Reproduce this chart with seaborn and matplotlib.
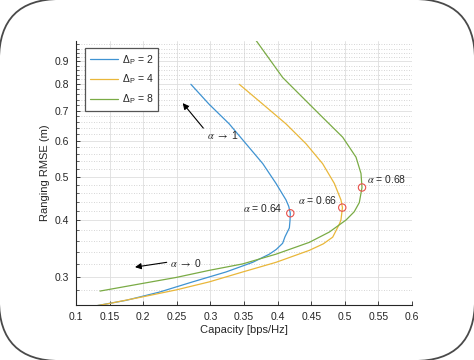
import numpy as np
import pandas as pd
import matplotlib
matplotlib.use("Agg")
import matplotlib.pyplot as plt
import seaborn as sns
from matplotlib.patches import FancyBboxPatch
from matplotlib.ticker import NullFormatter

# curves, from the alpha -> 1 end down to the alpha -> 0 end
cap_p2 = [0.271, 0.298, 0.328, 0.353, 0.378, 0.3976, 0.4125, 0.4165, 0.4189, 0.4185, 0.4175, 0.411,
          0.4075, 0.398, 0.3877, 0.3629, 0.3232, 0.2736, 0.224, 0.1744, 0.1298]
rmse_p2 = [0.80, 0.723, 0.654, 0.591, 0.534, 0.483, 0.444, 0.430, 0.415, 0.400, 0.385, 0.368,
           0.356, 0.345, 0.3368, 0.3231, 0.3076, 0.2925, 0.2776, 0.2662, 0.2589]

cap_p4 = [0.343, 0.378, 0.4125, 0.4423, 0.467, 0.4844, 0.4943, 0.4965, 0.4943, 0.4919, 0.482,
          0.468, 0.4472, 0.3976, 0.348, 0.2984, 0.2488, 0.1992, 0.1496, 0.13]
rmse_p4 = [0.80, 0.723, 0.654, 0.591, 0.534, 0.483, 0.444, 0.427, 0.401, 0.3926, 0.3673,
           0.355, 0.3434, 0.3231, 0.3076, 0.2925, 0.2807, 0.271, 0.262, 0.2589]

cap_p8 = [0.368, 0.4076, 0.4373, 0.467, 0.4969, 0.5167, 0.5241, 0.5256, 0.5216, 0.514, 0.502,
          0.477, 0.4472, 0.3976, 0.348, 0.2984, 0.2488, 0.1992, 0.1357]
rmse_p8 = [1.0, 0.828, 0.748, 0.676, 0.611, 0.552, 0.508, 0.473, 0.438, 0.418, 0.401,
           0.377, 0.3577, 0.3368, 0.3205, 0.3102, 0.2991, 0.2902, 0.2791]

series_names = ["Δ$_\\mathregular{P}$ = 2", "Δ$_\\mathregular{P}$ = 4", "Δ$_\\mathregular{P}$ = 8"]

# optimum points (red circles)
opt_cap = [0.4189, 0.4962, 0.5256]
opt_rmse = [0.4148, 0.427, 0.473]
opt_alpha = ["0.64", "0.66", "0.68"]

xticks = [0.1, 0.15, 0.2, 0.25, 0.3, 0.35, 0.4, 0.45, 0.5, 0.55, 0.6]
xtick_labels = ["0.1", "0.15", "0.2", "0.25", "0.3", "0.35", "0.4", "0.45", "0.5", "0.55", "0.6"]
yticks = [0.3, 0.4, 0.5, 0.6, 0.7, 0.8, 0.9]
ytick_labels = ["0.3", "0.4", "0.5", "0.6", "0.7", "0.8", "0.9"]

rows = []
for name, xs, ys in zip(series_names, [cap_p2, cap_p4, cap_p8], [rmse_p2, rmse_p4, rmse_p8]):
    for x, y in zip(xs, ys):
        rows.append({"capacity": x, "rmse": y, "delta": name})
df = pd.DataFrame(rows)

sns.set_style("ticks")
plt.rcParams["font.family"] = ["Liberation Sans", "DejaVu Sans"]
plt.rcParams["mathtext.fontset"] = "stix"
plt.rcParams["axes.edgecolor"] = "#262626"
plt.rcParams["xtick.color"] = "#262626"
plt.rcParams["ytick.color"] = "#262626"

fig = plt.figure(figsize=(4.74, 3.6), dpi=100)

# rounded frame around the whole picture
bg = fig.add_axes([0, 0, 1, 1], zorder=-1)
bg.set_xlim(0, 474)
bg.set_ylim(360, 0)
bg.axis("off")
bg.add_patch(FancyBboxPatch((-1, -1), 476, 362, boxstyle="round,pad=0,rounding_size=61",
                            fill=False, ec="#4a4a4a", lw=1.3))

ax = fig.add_axes([0.1603, 0.1528, 0.7089, 0.7347])
palette = ["#3f93d2", "#e9b73a", "#7aab45"]
sns.lineplot(data=df, x="capacity", y="rmse", hue="delta", palette=palette, sort=False,
             estimator=None, units="delta", lw=0.9, ax=ax)

sns.scatterplot(x=opt_cap, y=opt_rmse, marker="o", s=28, facecolor="none",
                edgecolor="#e8504a", linewidth=0.8, ax=ax, zorder=5, legend=False)

ax.set_yscale("log")
ax.set_xlim(0.1, 0.6)
ax.set_ylim(0.26, 1.0)
ax.set_xticks(xticks, labels=xtick_labels)
ax.set_yticks(yticks, labels=ytick_labels)
ax.set_yticks(np.round(np.arange(0.26, 1.0, 0.02), 2), minor=True)
ax.yaxis.set_minor_formatter(NullFormatter())
ax.tick_params(axis="both", which="major", direction="in", length=3, width=0.6, labelsize=7.5, pad=5)
ax.tick_params(axis="y", which="minor", direction="in", length=1.8, width=0.5)
ax.tick_params(axis="x", which="minor", bottom=False)

ax.grid(True, which="major", color="#dedede", lw=0.6, ls="-")
ax.grid(True, which="minor", axis="y", color="#c8c8c8", lw=0.6, ls=(0, (1, 2)))
ax.set_axisbelow(True)
for s in ["top", "right"]:
    ax.spines[s].set_visible(False)
for s in ["left", "bottom"]:
    ax.spines[s].set_linewidth(0.8)

ax.set_xlabel("Capacity [bps/Hz]", fontsize=8, labelpad=2)
ax.set_ylabel("Ranging RMSE (m)", fontsize=8, labelpad=3)

# alpha labels next to the circles
ax.text(0.4066, 0.426, "$\\alpha$ = " + opt_alpha[0], ha="right", va="center", fontsize=7.5)
ax.text(0.4889, 0.444, "$\\alpha$ = " + opt_alpha[1], ha="right", va="center", fontsize=7.5)
ax.text(0.5326, 0.495, "$\\alpha$ = " + opt_alpha[2], ha="left", va="center", fontsize=7.5)

arrow = dict(arrowstyle="-|>", color="black", lw=0.8, mutation_scale=9, shrinkA=0, shrinkB=0)
ax.annotate("", xy=(0.2588, 0.727), xytext=(0.2895, 0.640), arrowprops=arrow)
ax.text(0.295, 0.618, "$\\alpha$ $\\rightarrow$ 1", ha="left", va="center", fontsize=7.5)
ax.annotate("", xy=(0.1878, 0.3153), xytext=(0.235, 0.3231), arrowprops=arrow)
ax.text(0.240, 0.3215, "$\\alpha$ $\\rightarrow$ 0", ha="left", va="center", fontsize=7.5)

leg = ax.legend(loc="upper left", bbox_to_anchor=(0.027, 0.97), borderaxespad=0, fontsize=7.5,
                handlelength=2.7, handletextpad=0.4, labelspacing=0.6, borderpad=0.45,
                fancybox=False, framealpha=1, edgecolor="#555555", title=None)
leg.get_frame().set_linewidth(0.9)

plt.savefig("out.png", dpi=100)
